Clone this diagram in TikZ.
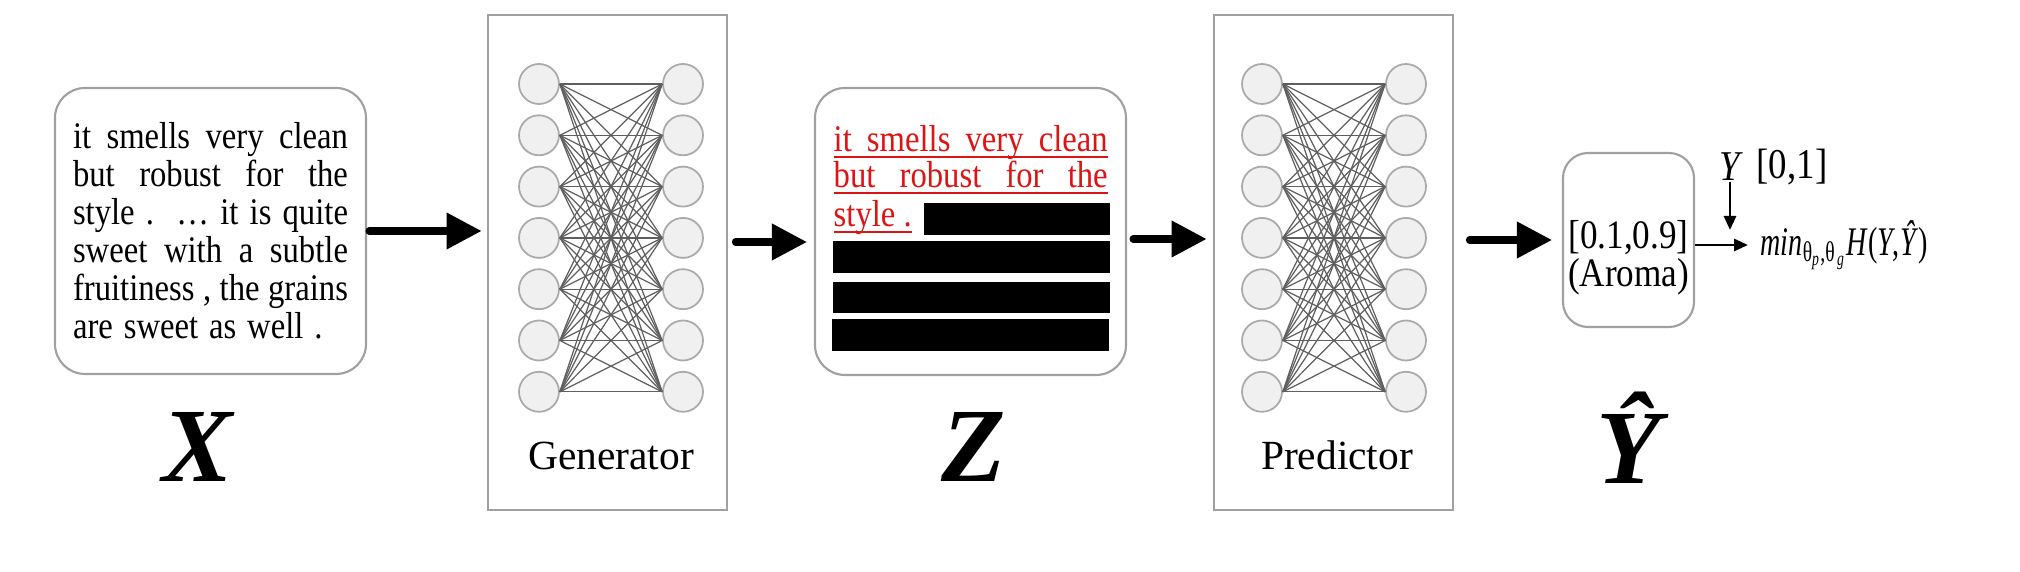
\documentclass[tikz,border=0pt]{standalone}
\usepackage{graphicx}
\usepackage{fontspec}
\setmainfont{Liberation Serif}
\usetikzlibrary{arrows.meta}

\definecolor{boxgray}{RGB}{160,160,160}
\definecolor{cellfill}{RGB}{240,240,240}
\definecolor{celledge}{RGB}{170,170,170}
\definecolor{wiregray}{RGB}{95,95,95}
\definecolor{maskred}{RGB}{220,20,20}

\tikzset{
    roundbox/.style={draw=boxgray, line width=0.6pt, rounded corners=0.3cm, inner sep=0pt},
    netbox/.style={draw=boxgray, line width=0.8pt, minimum width=2.39cm, minimum height=4.95cm, inner sep=0pt},
    neuron/.style={circle, draw=celledge, fill=cellfill, line width=0.5pt, minimum size=0.4cm, inner sep=0pt},
    synapse/.style={draw=wiregray, line width=0.35pt},
    bigarrow/.style={line width=2pt, line cap=round, -{Triangle[length=3.5mm,width=3.5mm]}},
    smallarrow/.style={line width=0.8pt, -{Triangle[length=1.4mm,width=1.2mm]}},
    redline/.style={anchor=base west, inner sep=0pt, text=maskred, font=\fontsize{9.3}{10.8}\selectfont},
    biglabel/.style={anchor=base, inner sep=0pt, font=\fontsize{30}{30}\selectfont\bfseries\itshape},
    netlabel/.style={anchor=base, inner sep=0pt, font=\fontsize{11.8}{12}\selectfont},
}

% tall, justified text lines
\newcommand{\tall}[1]{\scalebox{1}[1.15]{#1}}
\newcommand{\jline}[2]{\tall{\makebox[#1][s]{\spaceskip=\fontdimen2\font plus 1fil\relax #2}}}
\newcommand{\redjline}[1]{\underline{\smash{\jline{2.74cm}{#1}}}}

\begin{document}
\begin{tikzpicture}
    % Fix the size of the picture
    \useasboundingbox (0,0) rectangle (20.2,-5.72);

    % Draw the input review X
    \node[roundbox, minimum width=3.11cm, minimum height=2.86cm, text width=2.75cm, align=left,
          font=\fontsize{9.3}{10.83}\selectfont\frenchspacing] (xbox) at (2.105,-2.31) {%
        \jline{2.75cm}{it smells very clean}\\
        \jline{2.75cm}{but robust for the}\\
        \jline{2.75cm}{style .\ \ … it is quite}\\
        \jline{2.75cm}{sweet with a subtle}\\
        \jline{2.75cm}{fruitiness , the grains}\\
        \tall{are sweet as well .}};
    \node[biglabel] (xlab) at (1.98,-4.82) {X};

    % Draw the generator network
    \node[netbox] (gen) at (6.075,-2.625) {};
    \foreach \i in {1,...,7} {
        \node[neuron] (gl\i) at (5.39,-0.327-0.513*\i) {};
        \node[neuron] (gr\i) at (6.83,-0.327-0.513*\i) {};
    }
    \foreach \i in {1,...,7}
        \foreach \j in {1,...,7}
            \draw[synapse] (gl\i.east) -- (gr\j.west);
    \node[netlabel] (genlab) at (6.11,-4.70) {Generator};

    % Draw the rationale Z
    \node[roundbox, minimum width=3.11cm, minimum height=2.87cm] (zbox) at (9.705,-2.315) {};
    \node[redline] (zl1) at (8.33,-1.52) {\redjline{it smells very clean}};
    \node[redline] (zl2) at (8.33,-1.88) {\redjline{but robust for the}};
    \node[redline] (zl3) at (8.33,-2.27) {\underline{\smash{\tall{style .}}}};
    \fill (9.24,-2.03) rectangle (11.10,-2.35);
    \fill (8.33,-2.41) rectangle (11.10,-2.73);
    \fill (8.33,-2.82) rectangle (11.10,-3.13);
    \fill (8.32,-3.19) rectangle (11.09,-3.51);
    \node[biglabel] (zlab) at (9.74,-4.82) {Z};

    % Draw the predictor network
    \node[netbox] (pred) at (13.335,-2.625) {};
    \foreach \i in {1,...,7} {
        \node[neuron] (pl\i) at (12.62,-0.327-0.513*\i) {};
        \node[neuron] (pr\i) at (14.06,-0.327-0.513*\i) {};
    }
    \foreach \i in {1,...,7}
        \foreach \j in {1,...,7}
            \draw[synapse] (pl\i.east) -- (pr\j.west);
    \node[netlabel] (predlab) at (13.37,-4.70) {Predictor};

    % Draw the prediction
    \node[roundbox, rounded corners=0.25cm, minimum width=1.31cm, minimum height=1.74cm] (aroma) at (16.285,-2.40) {};
    \node[align=center, inner sep=0pt, font=\fontsize{10}{8.8}\selectfont] (aromatxt) at (16.285,-2.575) {\tall{[0.1,0.9]}\\\tall{(Aroma)}};
    \node[biglabel] (yhat) at (16.29,-4.84) {Ŷ};

    % Draw the loss
    \node[inner sep=0pt, font=\fontsize{10.5}{12}\selectfont\itshape] (ylab) at (17.30,-1.67) {\tall{Y}};
    \node[inner sep=0pt, font=\fontsize{10.5}{12}\selectfont] (range) at (17.92,-1.67) {\tall{[0,1]}};
    \node[anchor=west, inner sep=0.12cm, font=\fontsize{10.5}{12}\selectfont] (loss) at (17.48,-2.45)
        {\scalebox{0.76}[1.1]{\textit{min}\textsubscript{θ\textsubscript{\textit{p}},θ\textsubscript{\,\textit{g}}}\textit{H}(\textit{Y},\textit{Ŷ})}};
    \coordinate (join) at (17.30,-2.30);

    % Draw the arrows
    \draw[bigarrow, shorten <=0.02cm, shorten >=0.05cm] (xbox.east) -- (xbox.east -| gen.west);
    \draw[bigarrow, shorten <=0.07cm, shorten >=0.07cm] ([yshift=-0.105cm]zbox.west -| gen.east) -- ([yshift=-0.105cm]zbox.west);
    \draw[bigarrow, shorten <=0.06cm, shorten >=0.06cm] ([yshift=-0.075cm]zbox.east) -- ([yshift=-0.075cm]zbox.east -| pred.west);
    \draw[bigarrow, shorten <=0.15cm, shorten >=0.10cm] (aroma.west -| pred.east) -- (aroma.west);
    \draw[smallarrow] (loss.west -| aroma.east) -- (loss.west);
    \draw[smallarrow] (ylab) -- (join);

\end{tikzpicture}
\end{document}
